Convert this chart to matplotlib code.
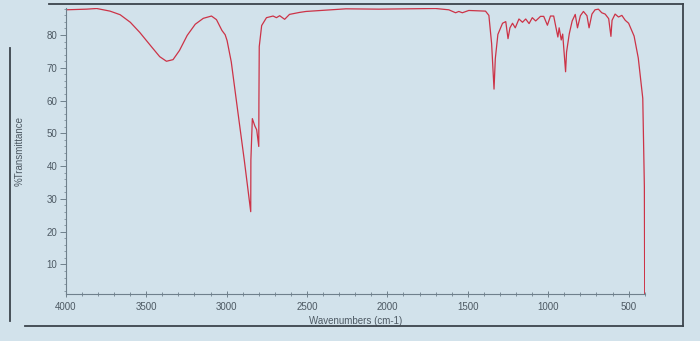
import numpy as np
import matplotlib
matplotlib.use('Agg')
import matplotlib.pyplot as plt
from matplotlib.ticker import MultipleLocator
from matplotlib.lines import Line2D

# IR spectrum (wavenumber cm-1, %T)
wavenumber = [4000, 3870, 3808, 3725, 3662, 3599, 3540, 3470, 3416, 3374,
              3333, 3293, 3245, 3195, 3145, 3094, 3063, 3029, 3009, 2997,
              2971, 2931, 2890, 2850, 2849, 2840, 2824, 2813, 2800, 2799,
              2797, 2782, 2752, 2711, 2690, 2670, 2639, 2609, 2547, 2506,
              2258, 2054, 1701, 1618, 1576, 1556, 1534, 1494, 1390, 1369,
              1352, 1337, 1329, 1313, 1284, 1264, 1250, 1238, 1222, 1205,
              1182, 1160, 1140, 1119, 1099, 1078, 1048, 1028, 1005, 986,
              966, 940, 932, 919, 910, 892, 886, 869, 851, 832,
              818, 800, 781, 759, 746, 728, 709, 688, 667, 646,
              624, 610, 603, 584, 563, 542, 521, 500, 466, 440,
              412, 402, 400]
transmittance = [87.7, 87.9, 88.1, 87.3, 86.2, 83.9, 80.8, 76.6, 73.4, 72.0,
                 72.5, 75.3, 79.9, 83.3, 85.1, 85.8, 84.7, 81.4, 80.1, 78.3,
                 71.8, 56.9, 41.8, 26.1, 41.9, 54.5, 52.2, 51.1, 46.0, 60.0,
                 76.5, 82.9, 85.3, 85.8, 85.3, 85.9, 84.8, 86.3, 86.9, 87.2,
                 88.0, 87.9, 88.1, 87.7, 86.8, 87.2, 86.8, 87.5, 87.3, 86.0,
                 77.4, 63.5, 72.8, 80.2, 83.6, 84.1, 78.9, 82.2, 83.6, 82.2,
                 84.9, 83.9, 84.9, 83.5, 85.3, 84.3, 85.7, 85.7, 83.0, 85.8,
                 85.8, 79.4, 82.2, 78.5, 80.3, 68.8, 74.8, 80.4, 84.3, 86.3,
                 82.2, 85.9, 87.2, 85.9, 82.2, 86.4, 87.7, 87.9, 86.8, 86.4,
                 85.0, 79.6, 84.5, 86.4, 85.5, 86.0, 84.5, 83.6, 79.7, 73.0,
                 60.7, 33.6, 1.0]

x_ticks = [4000, 3500, 3000, 2500, 2000, 1500, 1000, 500]
y_ticks = [10, 20, 30, 40, 50, 60, 70, 80]

bg = '#d2e2eb'
axis_col = '#6f808c'
text_col = '#4d5963'
frame_col = '#3c444c'

plt.rcParams['font.family'] = ['Liberation Sans', 'DejaVu Sans']

fig = plt.figure(figsize=(7.0, 3.41), dpi=100, facecolor=bg)
ax = fig.add_axes([0.094, 0.138, 0.827, 0.839], facecolor=bg)

# window border lines round the plot (top, right, bottom, left edge)
for xs, ys in [([0.07, 0.975], [0.988, 0.988]),
               ([0.975, 0.975], [0.045, 0.988]),
               ([0.035, 0.975], [0.045, 0.045]),
               ([0.014, 0.014], [0.06, 0.86])]:
    fig.add_artist(Line2D(xs, ys, transform=fig.transFigure,
                          color=frame_col, lw=1.3))

ax.plot(wavenumber, transmittance, color='#cc3347', lw=0.9)

ax.set_xlim(4000, 400)
ax.set_ylim(1, 88.3)
ax.set_xticks(x_ticks)
ax.set_yticks(y_ticks)
ax.xaxis.set_minor_locator(MultipleLocator(100))
ax.yaxis.set_minor_locator(MultipleLocator(2))

for s in ['top', 'right']:
    ax.spines[s].set_visible(False)
for s in ['left', 'bottom']:
    ax.spines[s].set_color(axis_col)
    ax.spines[s].set_linewidth(0.8)

ax.tick_params(axis='x', which='major', direction='inout', length=5, width=0.7,
               color=axis_col, labelsize=7, labelcolor=text_col, pad=3)
ax.tick_params(axis='x', which='minor', direction='inout', length=3, width=0.6,
               color=axis_col)
ax.tick_params(axis='y', which='major', direction='out', length=4, width=0.7,
               color=axis_col, labelsize=7, labelcolor=text_col, pad=2)
ax.tick_params(axis='y', which='minor', direction='out', length=1.5, width=0.5,
               color=axis_col)

ax.set_xlabel('Wavenumbers (cm-1)', fontsize=7, color=text_col, labelpad=3)
ax.set_ylabel('%Transmittance', fontsize=7, color=text_col, labelpad=16)

fig.savefig('out.png', dpi=100, facecolor=bg)
